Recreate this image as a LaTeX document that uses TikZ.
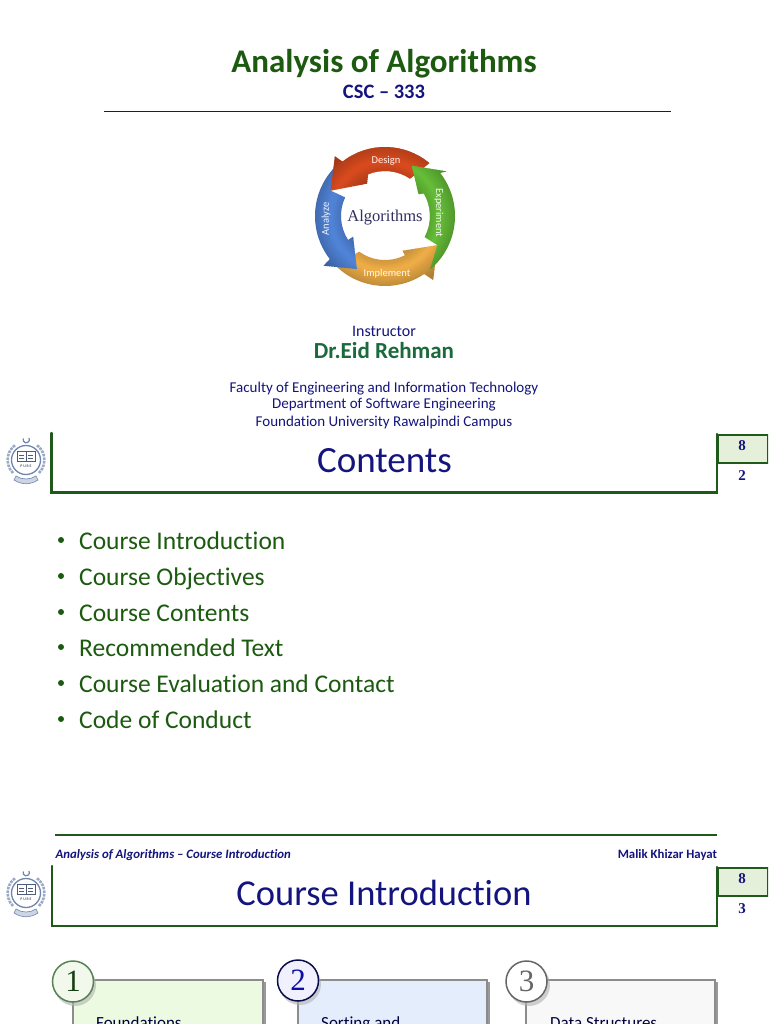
\documentclass[tikz,border=0pt]{standalone}
\usepackage{fontspec}
\setmainfont{Carlito}[Ligatures=NoCommon]
\newfontfamily\crestserif{Liberation Serif}
\definecolor{navy}{HTML}{14147E}
\definecolor{gtitle}{HTML}{1C5A10}
\definecolor{gline}{HTML}{1F5A1A}
\definecolor{gname}{HTML}{1B6A3C}
\definecolor{gbox}{HTML}{E4F0DA}
\definecolor{crest}{HTML}{6F84AE}
\definecolor{cred}{HTML}{DC4C1E}
\definecolor{cgreen}{HTML}{66C038}
\definecolor{corange}{HTML}{F2B048}
\definecolor{cblue}{HTML}{5286DC}
\newcommand{\ringfill}[2]{%
  \begin{scope}
    \clip #2;
    \foreach \rr in {34,36,...,84}{
      \pgfmathtruncatemacro{\mx}{max(72,100-1.3*abs(\rr-55))}
      \draw[line width=2.6pt,#1!\mx!black] (0,0) circle (\rr);
    }
  \end{scope}}
\tikzset{
  txt/.style={inner sep=0pt,outer sep=0pt,text=navy,font=\fontsize{#1}{#1}\selectfont},
  bul/.style={inner sep=0pt,anchor=base west,text=gtitle,font=\fontsize{25.5}{25.5}\selectfont},
  frameline/.style={draw=gline,line width=2.4pt,line cap=round,line join=miter},
  pagebox/.style={draw=gline,line width=2pt,fill=gbox},
  pagenum/.style={inner sep=0pt,text=navy,font=\crestserif\bfseries\fontsize{15}{15}\selectfont},
  cycletxt/.style={inner sep=0pt,text=white,opacity=.92,font=\fontsize{10.5}{10.5}\selectfont},
  cardtxt/.style={inner sep=0pt,anchor=base west,text=black!75!blue,font=\fontsize{17}{17}\selectfont},
  numdisc/.style={circle,minimum size=41pt,inner sep=0pt,line width=1.5pt,font=\crestserif\fontsize{31}{31}\selectfont},
  crest/.pic={
    \begin{scope}[y=1pt]
    \draw[crest,line width=1.3pt] (0,0) circle (14.5);
    \draw[crest!70,line width=2.6pt,densely dotted] (-13,-13) arc[start angle=225,end angle=125,radius=18.4];
    \draw[crest!70,line width=2.6pt,densely dotted] (13,-13) arc[start angle=-45,end angle=55,radius=18.4];
    \draw[crest,fill=crest!35,line width=.6pt] (-10,-16) .. controls (-4,-20) and (4,-20) .. (10,-16) -- (12,-20) .. controls (4,-25) and (-4,-25) .. (-12,-20) -- cycle;
    \draw[crest!70!black,line width=1pt,fill=white] (-9,-1) rectangle (9,9);
    \draw[crest!70!black,line width=.7pt] (0,-1) -- (0,9) (-7,2) -- (-2,2) (2,2) -- (7,2) (-7,5) -- (-2,5) (2,5) -- (7,5);
    \node[inner sep=0pt,text=crest!70!black,font=\bfseries\fontsize{3.8}{3.8}\selectfont] at (0,-6) {P U R E};
    \draw[crest,line width=1.2pt] (3,22) arc[start angle=30,end angle=-200,radius=3.2];
    \end{scope}
  }
}
\begin{document}
\begin{tikzpicture}[x=1pt,y=-1pt]
\useasboundingbox (0,0) rectangle (768,1024);
\clip (0,0) rectangle (768,1024);
\fill[white] (0,0) rectangle (768,1024);

% title slide
\node[txt=33,text=gtitle,font=\bfseries\fontsize{33}{33}\selectfont] (title) at (384,64) {Analysis of Algorithms};
\node[txt=20.5,font=\bfseries\fontsize{20.5}{20.5}\selectfont] (code) at (384,91.5) {CSC – 333};
\coordinate (ruleL) at (104,111.5); \coordinate (ruleR) at (671,111.5);
\draw[navy,line width=1pt] (ruleL) -- (ruleR);

% cycle graphic
\begin{scope}[shift={(385,216)},y=1pt]
\ringfill{corange}{(-56:70) arc[start angle=-56,end angle=-134,radius=70] -- (-126:44)
  arc[start angle=-126,end angle=-63,radius=44] -- (-63:39) -- (-29:60) -- (-53:80) -- cycle}
\ringfill{cblue}{(218:70) arc[start angle=218,end angle=130,radius=70] -- (155:60)
  -- (155:44) arc[start angle=155,end angle=213,radius=44] -- (213:38) -- (242:60) -- (219:79) -- cycle}
\ringfill{cred}{(50:69) arc[start angle=50,end angle=128,radius=69] -- (130:78) -- (155:60) -- (119:37)
  -- (112:45) arc[start angle=112,end angle=56,radius=45] -- cycle}
\ringfill{cgreen}{(36:76) -- (38:70) arc[start angle=38,end angle=-50,radius=70] -- (-29:60)
  -- (-28:45) arc[start angle=-28,end angle=30,radius=45] -- (33:40) -- (62:57) -- cycle}
\node[inner sep=0pt,text=navy!55!black!85!white,font=\crestserif\fontsize{16.5}{16.5}\selectfont] (algo) at (0,-2) {Algorithms};
\node[cycletxt] (design) at (1,55.5) {Design};
\node[cycletxt,rotate=-90] (expt) at (54,3) {Experiment};
\node[cycletxt,rotate=90] (anal) at (-59,-3) {Analyze};
\node[cycletxt] (impl) at (2,-57.5) {Implement};
\end{scope}

\node[txt=16] (instr) at (384,331) {Instructor};
\node[txt=23,text=gname,font=\bfseries\fontsize{23}{23}\selectfont] (name) at (384,351) {Dr.Eid Rehman};
\node[txt=15] (fac) at (384,388.5) {Faculty of Engineering and Information Technology};
\node[txt=15] (dept) at (384,404.5) {Department of Software Engineering};
\node[txt=15] (uni) at (384,422) {Foundation University Rawalpindi Campus};

% contents slide
\pic at (26,460) {crest};
\coordinate (f1a) at (51.5,433); \coordinate (f1b) at (51.5,492.5); \coordinate (f1c) at (717,492.5); \coordinate (f1d) at (717,434);
\draw[frameline] (f1a) -- (f1b) -- (f1c) -- (f1d);
\node[pagebox,minimum width=50pt,minimum height=28pt,inner sep=0pt,anchor=north west] (p1box) at (717,434) {};
\node[pagenum] (p1a) at (742,446) {8};
\node[pagenum] (p1b) at (742,475.5) {2};
\node[txt=37] (contents) at (384.5,461) {Contents};

\foreach \yy/\tt [count=\i] in {549/Course Introduction,585/Course Objectives,621/Course Contents,656/Recommended Text,692/Course Evaluation and Contact,728/Code of Conduct}{
  \fill[gtitle] (61,\yy-9) circle (3);
  \node[bul] (b\i) at (79,\yy) {\tt};
}

% third slide
\coordinate (t1) at (55,835); \coordinate (t2) at (717,835);
\draw[gline,line width=1.8pt] (t1) -- (t2);
\node[txt=12.5,anchor=west,font=\bfseries\itshape\fontsize{12.8}{12.8}\selectfont] (hdl) at (55.5,855) {Analysis of Algorithms – Course Introduction};
\node[txt=12.5,anchor=east,font=\bfseries\fontsize{12.8}{12.8}\selectfont] (hdr) at (717,855) {Malik Khizar Hayat};
\pic at (26,893) {crest};
\coordinate (f2a) at (52,866); \coordinate (f2b) at (52,926); \coordinate (f2c) at (717,926); \coordinate (f2d) at (717,867);
\draw[frameline] (f2a) -- (f2b) -- (f2c) -- (f2d);
\node[pagebox,minimum width=50pt,minimum height=28pt,inner sep=0pt,anchor=north west] (p2box) at (717,867) {};
\node[pagenum] (p2a) at (742,879) {8};
\node[pagenum] (p2b) at (742,908.5) {3};
\node[txt=36.5] (intro) at (384,893) {Course Introduction};

% cards
\foreach \xa/\xb/\fillc in {73/263/EBFAE0,298/487/E4EDFB,526/715/F8F8F8}{
  \definecolor{cardfill}{HTML}{\fillc}
  \fill[black!40] (\xb,982) rectangle (\xb+3,1026);
  \fill[cardfill] (\xa,980) rectangle (\xb,1030);
  \draw[black!45,line width=1.4pt] (\xa,1030) -- (\xa,980) -- (\xb,980) -- (\xb,1030);
}
\fill[black!30,opacity=.6] (75,985) circle (21);
\fill[black!30,opacity=.6] (300,984) circle (21);
\fill[black!30,opacity=.6] (529,985) circle (21);
\node[numdisc,draw=gline!75!white,fill=gbox!50!white,text=gline!70!black] (n1) at (73,981.5) {1};
\node[numdisc,draw=navy!60!black,fill=blue!6!white,text=navy!70!blue] (n2) at (298,980.5) {2};
\node[numdisc,draw=black!60,fill=white,text=black!60] (n3) at (526.5,981.5) {3};
\node[cardtxt] (c1) at (96,1028) {Foundations};
\node[cardtxt] (c2) at (321,1028) {Sorting and};
\node[cardtxt] (c3) at (550,1028) {Data Structures};
\end{tikzpicture}
\end{document}
